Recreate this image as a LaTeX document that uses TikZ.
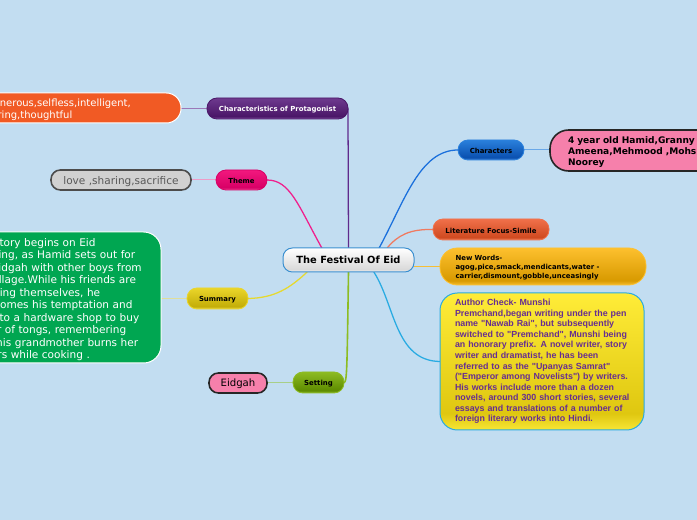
\documentclass[tikz,border=0pt]{standalone}
\usepackage{fontspec}
\setmainfont{DejaVu Sans}
\newfontfamily\arialfont{Liberation Sans}
\usetikzlibrary{backgrounds}
\definecolor{bgc}{HTML}{C2DDF1}
\definecolor{cOrange}{HTML}{F15A24}
\definecolor{cGreen}{HTML}{00A651}
\definecolor{cRose}{HTML}{F680AB}
\definecolor{cAuthorText}{HTML}{662D91}
\definecolor{cAuthorLine}{HTML}{29ABE2}
\definecolor{cCentralLine}{HTML}{3A8FD0}
\definecolor{lPurple}{HTML}{5F2A8C}
\definecolor{lPink}{HTML}{F01E8C}
\definecolor{lYellow}{HTML}{E6D92E}
\definecolor{lOlive}{HTML}{8DBC22}
\definecolor{lBlue}{HTML}{1A6FDC}
\definecolor{lCoral}{HTML}{F07A60}
\definecolor{lAmber}{HTML}{F6BE36}
\definecolor{sPurple}{HTML}{9B78B8}
\definecolor{sPink}{HTML}{EE9CC8}
\definecolor{sYellow}{HTML}{E0DE9A}
\definecolor{sOlive}{HTML}{A8CF88}
\definecolor{sBlue}{HTML}{6AA8E8}
\newcommand{\glossy}[4]{%
  \definecolor{#1T}{HTML}{#2}\definecolor{#1M}{HTML}{#3}\definecolor{#1L}{HTML}{#4}%
  \pgfdeclareverticalshading{#1}{100bp}{color(0bp)=(#1L); color(25bp)=(#1L); color(31bp)=(#1M); color(75bp)=(#1T); color(100bp)=(#1T)}%
}
\glossy{gCentral}{FFFFFF}{DADADA}{F2F2F2}
\glossy{gPurple}{6E3A8E}{4A1668}{8A5CA8}
\glossy{gPink}{F2187E}{D80066}{F25CA0}
\glossy{gYellow}{EAD52A}{C4AE08}{E6D84A}
\glossy{gOlive}{8DBB22}{5E8C00}{8DB82E}
\glossy{gBlue}{2A80DC}{0A50B0}{4C90E0}
\glossy{gCoral}{F0704A}{D04A20}{F08A68}
\glossy{gAmber}{FDC02E}{D89A00}{F6BE30}
\glossy{gAuthor}{FFEC38}{DFC710}{F8E636}
\tikzset{
  x=0.75pt, y=-0.75pt,
  span/.style n args={4}{minimum width={(#3-#1)*0.75pt}, minimum height={(#4-#2)*0.75pt}, at={({(#1+#3)/2},{(#2+#4)/2})}},
  nudge/.style={execute at begin node={\rule{0pt}{#1}}},
  mapbox/.style={inner sep=0pt, outer sep=0pt, align=center, text=black},
  topic/.style={mapbox, rounded corners=7.5pt, line width=0.6pt, nudge=5.5pt, font=\bfseries\fontsize{5.2pt}{7pt}\selectfont},
  detail/.style={mapbox, font=\fontsize{7.9pt}{9.5pt}\selectfont},
  link/.style={line width=0.95pt},
  sublink/.style={line width=0.75pt},
}
\begin{document}
\begin{tikzpicture}
\useasboundingbox (0,0) rectangle (697,520);
\begin{scope}
\clip (0,0) rectangle (697,520);
% centre
\node[mapbox, span={283}{248}{414}{272}, draw=cCentralLine, shading=gCentral, rounded corners=7pt, line width=0.75pt, font=\bfseries\fontsize{7.4pt}{10pt}\selectfont] (central) {The Festival Of Eid};
% main topics
\node[topic, span={207}{98}{348}{119}, draw=gPurpleM, shading=gPurple, text=white] (traits) {Characteristics of Protagonist};
\node[topic, span={216}{170}{267}{190}, draw=gPinkM, shading=gPink] (theme) {Theme};
\node[topic, span={187}{288}{248}{309}, draw=gYellowT, shading=gYellow] (summary) {Summary};
\node[topic, span={293}{372}{344}{393}, draw=gOliveT, shading=gOlive] (setting) {Setting};
\node[topic, span={458}{140}{524}{160}, draw=gBlueT, shading=gBlue] (characters) {Characters};
\node[topic, span={433}{219}{549}{240}, draw=gCoralT, shading=gCoral] (literature) {Literature Focus-Simile};
\node[topic, span={440}{248}{646}{285}, rounded corners=13pt, draw=gAmberT, shading=gAmber, align=left, text width=175*0.75pt, font=\bfseries\fontsize{5.2pt}{6.6pt}\selectfont] (words) {New Words-\\agog,pice,smack,mendicants,water -\\carrier,dismount,gobble,unceasingly};
\node[mapbox, span={440}{293}{644}{430}, rounded corners=13pt, line width=0.75pt, draw=cAuthorLine, shading=gAuthor, align=left, text=cAuthorText, text width=174*0.75pt, font=\arialfont\bfseries\fontsize{6.65pt}{7.9pt}\selectfont] (author) {Author Check- Munshi\\Premchand,began writing under the pen\\name "Nawab Rai", but subsequently\\switched to "Premchand", Munshi being\\an honorary prefix. A novel writer, story\\writer and dramatist, he has been\\referred to as the "Upanyas Samrat"\\("Emperor among Novelists") by writers.\\His works include more than a dozen\\\makebox[\linewidth][l]{novels, around 300 short stories, several}\\essays and translations of a number of\\foreign literary works into Hindi.};
% detail boxes
\node[detail, span={-40}{93}{181}{123}, rounded corners=11pt, draw=white, line width=0.75pt, fill=cOrange, text=white, align=left, text width=169*0.75pt, nudge=8pt, font=\fontsize{7.5pt}{9.2pt}\selectfont] (traitsbox) {Generous,selfless,intelligent,\\caring,thoughtful};
\node[detail, span={51}{170}{191}{190}, rounded corners=7pt, draw=black!70, line width=1.2pt, fill=black!18, text=black!65, nudge=9pt] (themebox) {love ,sharing,sacrifice};
\node[detail, span={-40}{232}{161}{363}, rounded corners=13pt, draw=white, line width=0.75pt, fill=cGreen, text=white, align=left, text width=179*0.75pt, nudge=9pt, font=\fontsize{7.9pt}{9.4pt}\selectfont] (summarybox) {The story begins on Eid\\morning, as Hamid sets out for\\the Eidgah with other boys from\\his village.While his friends are\\enjoying themselves, he\\overcomes his temptation and\\goes to a hardware shop to buy\\a pair of tongs, remembering\\how his grandmother burns her\\fingers while cooking .};
\node[detail, span={209}{373}{267}{393}, rounded corners=7pt, draw=black!85, line width=1.2pt, fill=cRose, nudge=7.5pt, font=\fontsize{7.6pt}{10pt}\selectfont] (settingbox) {Eidgah};
\node[detail, span={550}{130}{780}{171}, rounded corners=14pt, draw=black!85, line width=1.2pt, fill=cRose, align=left, text width=194*0.75pt, nudge=7.5pt, font=\bfseries\fontsize{6.8pt}{8.3pt}\selectfont] (charbox) {4 year old Hamid,Granny\\Ameena,Mehmood ,Mohsin,\\Noorey};
\end{scope}
% connectors behind the boxes
\begin{scope}[on background layer]
\fill[bgc] (0,0) rectangle (697,520);
\draw[link, lPurple] (central.north) -- (traits.east);
\draw[link, lPink] (theme.east) .. controls (290,180) and (298,205) .. ([xshift=-20pt]central.north);
\draw[link, lYellow] (summary.east) .. controls (275,298) and (290,288) .. ([xshift=-31pt]central.south);
\draw[link, lOlive, line width=1.2pt] (setting.east) .. controls (347,382) and (347,372) .. (central.south);
\draw[link, lBlue] (characters.west) .. controls (420,150) and (405,200) .. ([xshift=23pt]central.north);
\draw[link, lCoral] (literature.west) .. controls (410,229) and (398,235) .. ([xshift=29pt]central.north);
\draw[link, lAmber] (words.west) -- (central.east |- words.west);
\draw[link, cAuthorLine] (author.west) .. controls (395,361) and (395,305) .. ([xshift=19pt]central.south);
\draw[sublink, sPurple] (traits.west) -- (traitsbox.east |- traits.west);
\draw[sublink, sPink] (theme.west) -- (themebox.east);
\draw[sublink, sYellow] (summary.west) -- (summarybox.east |- summary.west);
\draw[sublink, sOlive] (setting.west) -- (settingbox.east |- setting.west);
\draw[sublink, sBlue] (characters.east) -- (charbox.west |- characters.east);
\end{scope}
\end{tikzpicture}
\end{document}
